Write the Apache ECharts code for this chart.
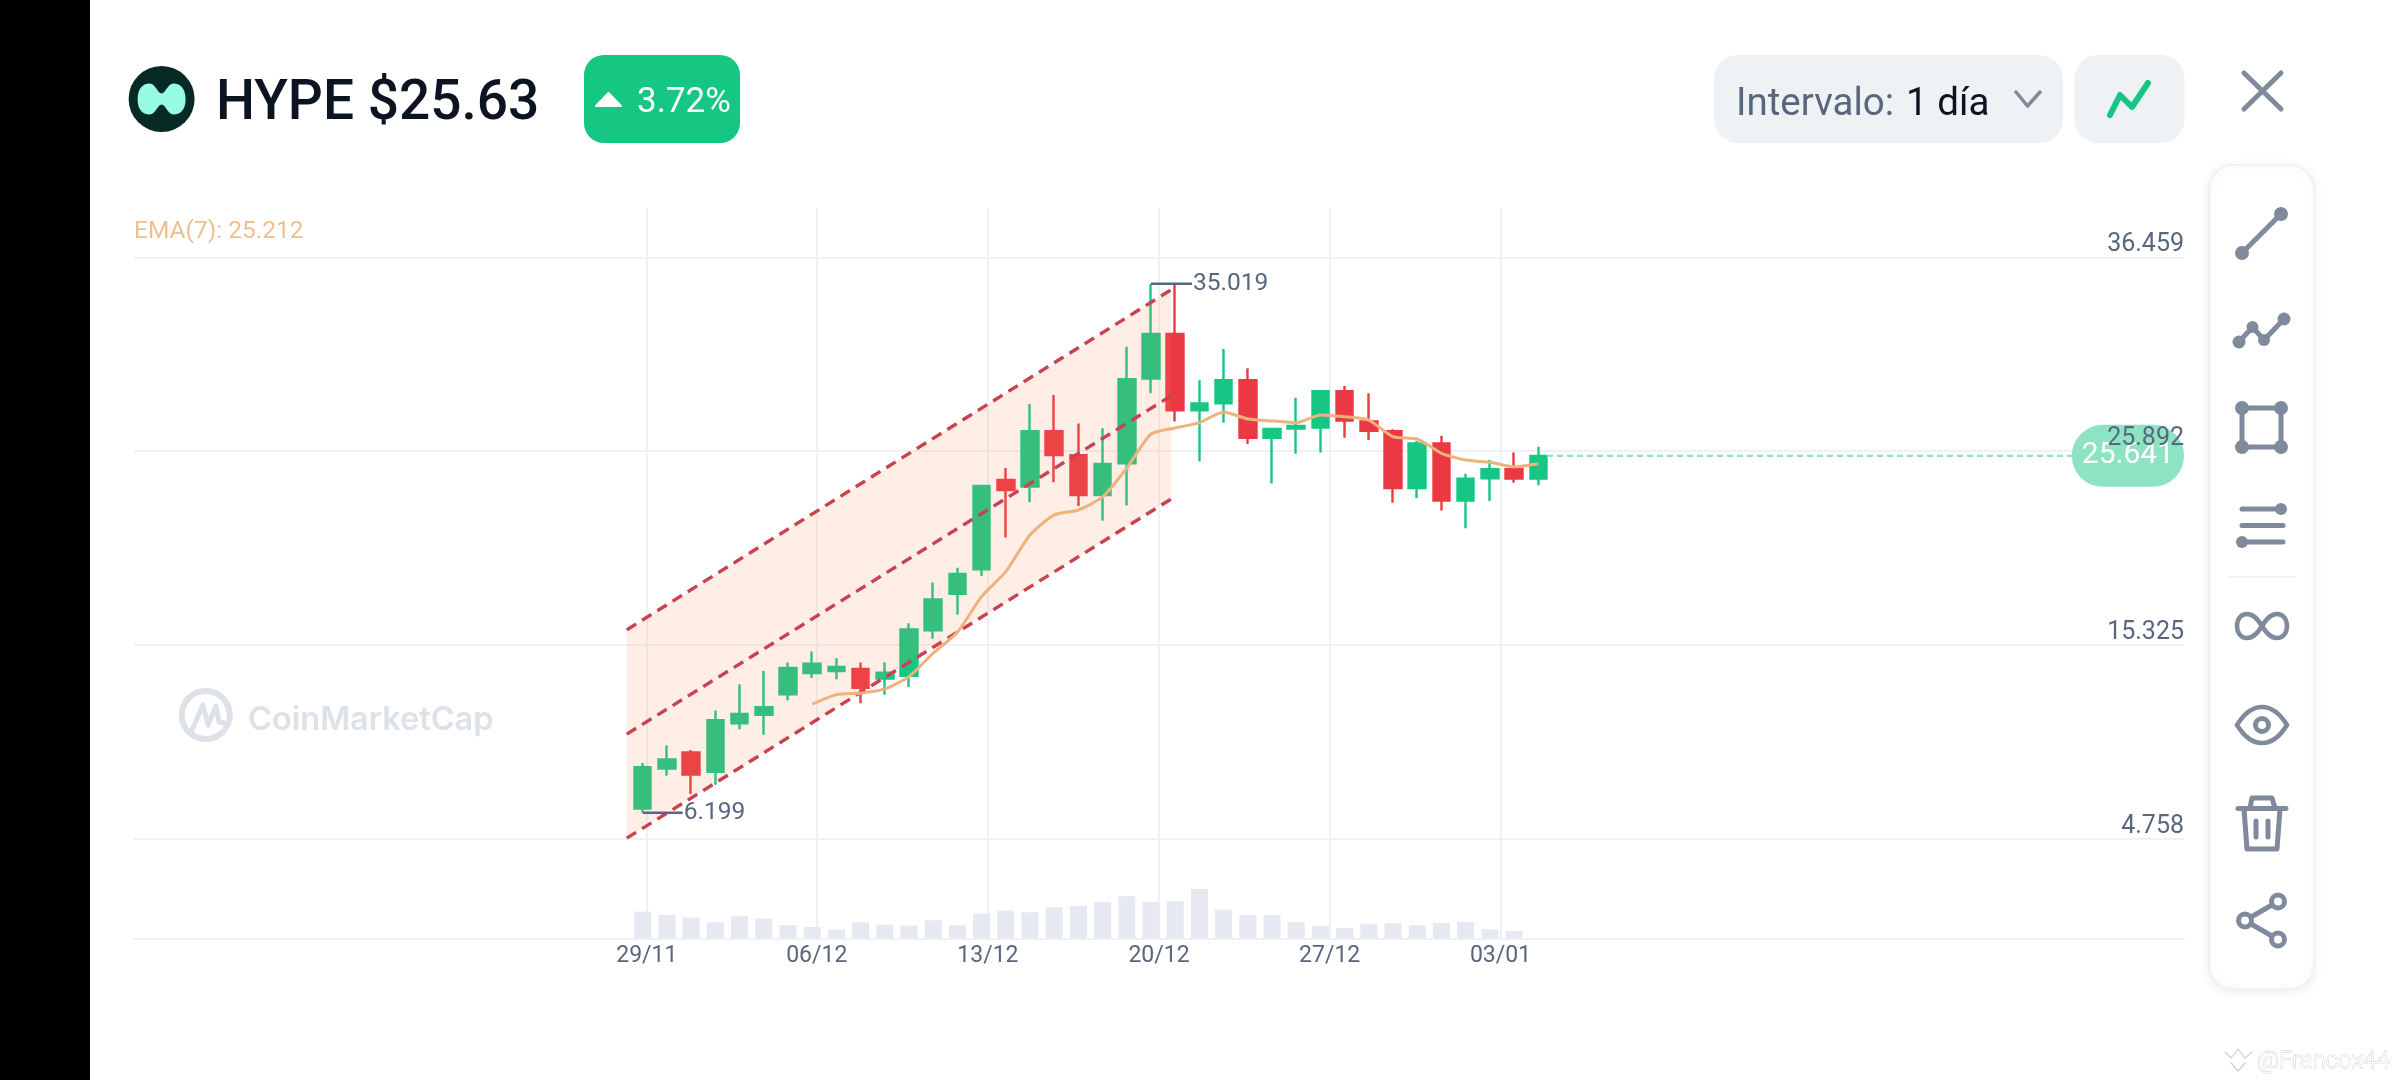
<!DOCTYPE html>
<html lang="es">

<head>
    <meta charset="UTF-8">
    <title>HYPE</title>
    <script src="https://cdn.jsdelivr.net/npm/echarts@6/dist/echarts.min.js"></script>
    <style>
        html, body { margin: 0; background: #fff; }
        #main { width: 2400px; height: 1080px; }
    </style>
</head>

<body>
    <div id="main"></div>

    <script>
        // values, one entry per daily candle
        var opens = [6.43, 8.60, 9.48, 8.42, 11.07, 11.53, 12.65, 13.80, 13.91, 14.03, 13.51, 13.65, 16.14, 18.12, 19.46, 24.33, 23.97, 26.98, 25.67, 23.51, 25.24, 29.85, 32.28, 28.12, 28.50, 29.76, 26.62, 27.13, 27.18, 29.16, 27.52, 26.98, 23.89, 26.31, 23.20, 24.42, 24.91, 24.40];
        var closes = [8.68, 9.10, 8.28, 11.24, 11.58, 11.95, 14.09, 14.31, 14.14, 13.00, 13.83, 16.18, 17.81, 19.21, 24.00, 23.78, 26.98, 25.69, 23.51, 25.20, 29.81, 32.28, 28.12, 28.49, 29.76, 26.62, 27.11, 27.27, 29.16, 27.56, 27.00, 23.89, 26.31, 23.20, 24.40, 24.91, 24.40, 25.641];
        var lows = [6.199, 8.21, 7.21, 7.72, 10.75, 10.44, 12.33, 13.54, 13.47, 12.16, 12.62, 13.04, 15.67, 16.99, 19.10, 21.19, 23.11, 24.20, 22.91, 22.10, 22.93, 29.05, 27.51, 25.35, 27.45, 26.29, 24.13, 25.75, 25.82, 26.62, 26.51, 23.08, 23.35, 22.66, 21.70, 23.18, 24.17, 24.04];
        var highs = [8.90, 9.86, 9.62, 11.76, 13.20, 13.92, 14.38, 14.98, 14.61, 14.38, 14.40, 16.52, 18.74, 19.54, 24.00, 24.98, 28.47, 28.96, 27.40, 27.14, 31.59, 35.019, 35.019, 29.76, 31.46, 30.41, 27.11, 28.81, 29.16, 29.45, 29.05, 27.09, 26.45, 26.74, 24.67, 25.42, 25.82, 26.14];
        var volumes = [80, 70, 62, 48, 66, 59, 40, 34, 26, 48, 41, 38, 54, 39, 74, 83, 78, 93, 97, 109, 126, 109, 111, 148, 86, 70, 70, 49, 37, 31, 42, 45, 39, 46, 49, 27, 22, 0];
        var ema7 = [null, null, null, null, null, null, null, 12.11, 12.63, 12.71, 12.94, 13.61, 14.89, 16.03, 17.97, 19.33, 21.33, 22.42, 22.69, 23.40, 24.98, 26.83, 27.16, 27.45, 28.03, 27.65, 27.54, 27.45, 27.87, 27.77, 27.59, 26.68, 26.56, 25.78, 25.41, 25.29, 25.04, 25.212];

        // the date grid does not sit on the candles, positions are in candle units
        var dateLabels = ['29/11', '06/12', '13/12', '20/12', '27/12', '03/01'];
        var datePositions = [0.17, 7.19, 14.26, 21.33, 28.38, 35.44];
        var priceTicks = [4.758, 15.325, 25.892, 36.459];

        // drawn channel: two ends, three parallel lines
        var channelX = [-0.66, 21.82];
        var channelUpper = [16.16, 34.68];
        var channelMid = [10.48, 28.90];
        var channelLower = [4.81, 23.28];

        var highValue = 35.019, highIndex = 21, highEnd = 22.69;
        var lowValue = 6.199, lowIndex = 0, lowEnd = 1.65;
        var lastPrice = 25.641, lastStart = 37.36;

        var xMin = -21.02, xMax = 63.68;
        var yMin = -0.646, yMax = 39.144;
        var volumeMax = 2190;

        var GREEN = '#16c784', RED = '#ea3943', GREY = '#58667e', ICON = '#808a9d', LINE = '#eff2f5';
        var FONT = 'Roboto';

        // icon shapes for the graphic component
        echarts.graphic.registerShape('hypeMark', echarts.graphic.extendPath('M0 16 C0 4 6 0 12 0 C18 0 20 10 24 10 C28 10 30 0 36 0 C42 0 48 4 48 16 C48 27 42 31 36 31 C30 31 28 21 24 21 C20 21 18 31 12 31 C6 31 0 27 0 16Z'));
        echarts.graphic.registerShape('infinityIcon', echarts.graphic.extendPath('M27 14 C22 6 18 2 12 2 C6 2 2 7 2 14 C2 21 6 26 12 26 C18 26 22 22 27 14 C32 6 36 2 42 2 C48 2 52 7 52 14 C52 21 48 26 42 26 C36 26 32 22 27 14Z'));
        echarts.graphic.registerShape('eyeIcon', echarts.graphic.extendPath('M2 19 C10 6 18 1 27 1 C36 1 44 6 52 19 C44 32 36 37 27 37 C18 37 10 32 2 19Z'));

        var candleData = opens.map(function (o, i) {
            return [i, o, closes[i], lows[i], highs[i]];
        });
        var volumeData = volumes.map(function (v, i) { return [i, v]; });
        var emaData = [];
        ema7.forEach(function (v, i) {
            if (v !== null) emaData.push([i, v]);
        });

        function channelLine(values) {
            return {
                type: 'line',
                data: [[channelX[0], values[0]], [channelX[1], values[1]]],
                showSymbol: false,
                silent: true,
                z: 5,
                lineStyle: { color: '#c8434f', width: 3.4, type: [11, 7] }
            };
        }

        // small line from a candle out to its high / low price
        function extremeMark(index, end, value) {
            return {
                type: 'line',
                data: [[index, value], {
                    value: [end, value],
                    label: {
                        show: true,
                        position: 'right',
                        distance: 1,
                        color: GREY,
                        fontFamily: FONT,
                        fontSize: 24.5,
                        formatter: value.toFixed(3)
                    }
                }],
                symbolSize: 0,
                showSymbol: true,
                silent: true,
                z: 7,
                lineStyle: { color: GREY, width: 2.5 }
            };
        }

        function txt(text, x, y, font, fill, align) {
            return {
                type: 'text',
                silent: true,
                z: 20,
                style: { text: text, x: x, y: y, font: font, fill: fill, align: align || 'left', verticalAlign: 'middle' }
            };
        }
        function roundRect(x, y, w, h, r, fill) {
            return { type: 'rect', silent: true, z: 18, shape: { x: x, y: y, width: w, height: h, r: r }, style: { fill: fill } };
        }
        function stroke(points, width, color) {
            return {
                type: 'polyline', silent: true, z: 20, shape: { points: points },
                style: { stroke: color || ICON, lineWidth: width || 5, lineCap: 'round', lineJoin: 'round', fill: 'none' }
            };
        }
        function dot(x, y, r) {
            return { type: 'circle', silent: true, z: 20, shape: { cx: x, cy: y, r: r }, style: { fill: ICON } };
        }
        function ringDot(x, y) {
            return {
                type: 'circle', silent: true, z: 21, shape: { cx: x, cy: y, r: 6.5 },
                style: { fill: '#fff', stroke: ICON, lineWidth: 5 }
            };
        }
        function outline(shapeName, x, y) {
            return {
                type: shapeName, silent: true, z: 20, x: x, y: y,
                style: { stroke: ICON, lineWidth: 4.5, fill: 'none' }
            };
        }

        var graphics = [
            { type: 'rect', silent: true, z: 30, shape: { x: 0, y: 0, width: 90, height: 1080 }, style: { fill: '#000' } },

            // header
            { type: 'circle', silent: true, z: 18, shape: { cx: 161.6, cy: 99, r: 33 }, style: { fill: '#072a24' } },
            { type: 'hypeMark', silent: true, z: 20, x: 137.6, y: 83.5, style: { fill: '#97fce4' } },
            txt('HYPE $25.63', 216, 105, '500 55px ' + FONT, '#0d1421'),
            roundRect(584, 55, 156, 88, 20, GREEN),
            { type: 'polygon', silent: true, z: 20, shape: { points: [[596, 106], [621, 106], [608.5, 93]] }, style: { fill: '#fff', stroke: '#fff', lineWidth: 2, lineJoin: 'round' } },
            txt('3.72%', 637, 103, '400 35px ' + FONT, '#fff'),

            roundRect(1714, 55, 349, 88, 24, LINE),
            txt('Intervalo:', 1736, 105, '400 38.5px ' + FONT, GREY),
            txt('1 día', 1906, 105, '400 38.5px ' + FONT, '#0d1421'),
            stroke([[2016, 92], [2027.5, 106], [2040, 92]], 3.5),
            roundRect(2074.5, 55, 110, 88, 24, LINE),
            stroke([[2110, 115], [2120, 95], [2132, 107], [2148, 83]], 6, GREEN),
            stroke([[2244, 73], [2281, 109]], 5),
            stroke([[2281, 73], [2244, 109]], 5),

            // tools panel
            {
                type: 'rect', silent: true, z: 17,
                shape: { x: 2209, y: 165, width: 105, height: 824, r: 24 },
                style: { fill: '#fff', stroke: LINE, lineWidth: 2, shadowBlur: 8, shadowColor: 'rgba(88,102,126,0.10)', shadowOffsetY: 2 }
            },
            stroke([[2242, 253], [2281, 214]]), dot(2242, 253, 7), dot(2281, 214, 7),
            stroke([[2239, 342], [2252.5, 327], [2264, 340], [2284, 319]]),
            dot(2239, 342, 6.5), dot(2252.5, 327, 6), dot(2264, 340, 6), dot(2284, 319, 6.5),
            stroke([[2242, 408], [2281, 408], [2281, 447], [2242, 447], [2242, 408]]),
            dot(2242, 408, 7), dot(2281, 408, 7), dot(2242, 447, 7), dot(2281, 447, 7),
            stroke([[2242, 509], [2281, 509]]), dot(2281, 509, 6),
            stroke([[2242, 525.5], [2283, 525.5]]),
            stroke([[2242, 542], [2283, 542]]), dot(2242, 542, 6),
            stroke([[2228, 577], [2295, 577]], 2, LINE),
            outline('infinityIcon', 2235, 612),
            outline('eyeIcon', 2235, 706),
            ringDot(2262, 725),
            stroke([[2238, 808.5], [2286, 808.5]]),
            stroke([[2250, 808], [2252, 798], [2272, 798], [2275, 808]]),
            stroke([[2244, 809], [2247, 849], [2277, 849], [2280, 809]]),
            stroke([[2256, 821], [2256, 837]]), stroke([[2268, 821], [2268, 837]]),
            stroke([[2278, 901.5], [2245, 920.5], [2278, 939.5]]),
            ringDot(2278, 901.5), ringDot(2245, 920.5), ringDot(2278, 939.5),

            // chart legend and watermarks
            txt('EMA(7): 25.212', 134, 232, '400 24.5px ' + FONT, '#edc092'),
            { type: 'arc', silent: true, z: 1, shape: { cx: 205.7, cy: 715, r: 24, startAngle: 0.75, endAngle: 0.55 }, style: { stroke: '#dde1e8', lineWidth: 6, fill: 'none', lineCap: 'round' } },
            { type: 'polyline', silent: true, z: 1, shape: { points: [[192, 730], [203, 705], [208, 725], [216, 706], [219, 722], [228, 724]] }, style: { stroke: '#dde1e8', lineWidth: 5, fill: 'none', lineJoin: 'round', lineCap: 'round' } },
            { type: 'text', silent: true, z: 1, style: { text: 'CoinMarketCap', x: 248, y: 720, font: '600 32.5px Inter', fill: '#dde1e8', align: 'left', verticalAlign: 'middle' } },
            stroke([[2225, 1052], [2231, 1058], [2238, 1049], [2245, 1058], [2252, 1052]], 1.2, '#cfcfcf'),
            stroke([[2231, 1063], [2238, 1071], [2245, 1063]], 1.2, '#cfcfcf'),
            { type: 'text', silent: true, z: 20, style: { text: '@Francox44', x: 2257, y: 1062, font: '300 24px ' + FONT, fill: '#fff', stroke: '#c9c9c9', lineWidth: 0.8, align: 'left', verticalAlign: 'middle' } }
        ];

        var option = {
            animation: false,
            backgroundColor: '#fff',
            textStyle: { fontFamily: FONT },
            graphic: { elements: graphics },
            grid: { left: 134, width: 2050, top: 208, height: 730.3 },
            xAxis: {
                type: 'value',
                min: xMin,
                max: xMax,
                axisLine: { onZero: false, lineStyle: { color: LINE, width: 2 } },
                axisTick: { show: false, customValues: datePositions },
                splitLine: { show: true, lineStyle: { color: LINE, width: 2 } },
                axisLabel: {
                    customValues: datePositions,
                    margin: 6,
                    color: GREY,
                    fontFamily: FONT,
                    fontSize: 23,
                    formatter: function (v) {
                        return dateLabels[datePositions.indexOf(v)];
                    }
                }
            },
            yAxis: [
                {
                    // grid lines, under the candles
                    type: 'value',
                    min: yMin,
                    max: yMax,
                    axisLine: { show: false, onZero: false },
                    axisTick: { show: false, customValues: priceTicks },
                    axisLabel: { show: false },
                    splitLine: { show: true, lineStyle: { color: LINE, width: 2 } }
                },
                {
                    // price labels, these sit above the last price pill
                    type: 'value',
                    position: 'right',
                    z: 10,
                    min: yMin,
                    max: yMax,
                    axisLine: { show: false, onZero: false },
                    axisTick: { show: false, customValues: priceTicks },
                    splitLine: { show: false },
                    axisLabel: {
                        inside: true,
                        customValues: priceTicks,
                        margin: 0,
                        verticalAlign: 'bottom',
                        color: GREY,
                        fontFamily: FONT,
                        fontSize: 25,
                        formatter: function (v) { return v.toFixed(3); }
                    }
                },
                {
                    // volume
                    type: 'value',
                    min: 0,
                    max: volumeMax,
                    show: false,
                    axisLine: { onZero: false },
                    splitLine: { show: false }
                }
            ],
            series: [
                {
                    type: 'bar',
                    yAxisIndex: 2,
                    data: volumeData,
                    barWidth: 17,
                    silent: true,
                    itemStyle: { color: '#e6e8f2' },
                    z: 1
                },
                {
                    type: 'candlestick',
                    data: candleData,
                    barWidth: 17,
                    silent: true,
                    z: 2,
                    itemStyle: { color: GREEN, color0: RED, borderColor: GREEN, borderColor0: RED, borderWidth: 2.4 }
                },
                {
                    // channel fill goes over the candles, it tints them
                    type: 'custom',
                    data: [[channelX[0], channelLower[0]]],
                    silent: true,
                    z: 4,
                    renderItem: function (params, api) {
                        var pts = [
                            api.coord([channelX[0], channelLower[0]]),
                            api.coord([channelX[0], channelUpper[0]]),
                            api.coord([channelX[1], channelUpper[1]]),
                            api.coord([channelX[1], channelLower[1]])
                        ];
                        return { type: 'polygon', shape: { points: pts }, style: { fill: 'rgba(246,133,80,0.14)' } };
                    }
                },
                channelLine(channelUpper),
                channelLine(channelMid),
                channelLine(channelLower),
                {
                    type: 'line',
                    data: emaData,
                    showSymbol: false,
                    smooth: 0.2,
                    silent: true,
                    z: 6,
                    lineStyle: { color: '#efb27c', width: 3 }
                },
                extremeMark(highIndex, highEnd, highValue),
                extremeMark(lowIndex, lowEnd, lowValue),
                {
                    type: 'line',
                    data: [[lastStart, lastPrice], {
                        value: [xMax, lastPrice],
                        label: {
                            show: true,
                            position: 'left',
                            distance: 0,
                            color: '#fff',
                            fontFamily: FONT,
                            fontSize: 30,
                            backgroundColor: '#8ee3c2',
                            padding: [17, 10, 15, 10],
                            borderRadius: 32,
                            formatter: lastPrice.toFixed(3)
                        }
                    }],
                    symbolSize: 0,
                    showSymbol: true,
                    silent: true,
                    z: 3,
                    lineStyle: { color: '#8ee3c2', width: 2.4, type: [6, 4] }
                }
            ]
        };

        var myChart = echarts.init(document.getElementById('main'));
        myChart.setOption(option);
    </script>
</body>

</html>
